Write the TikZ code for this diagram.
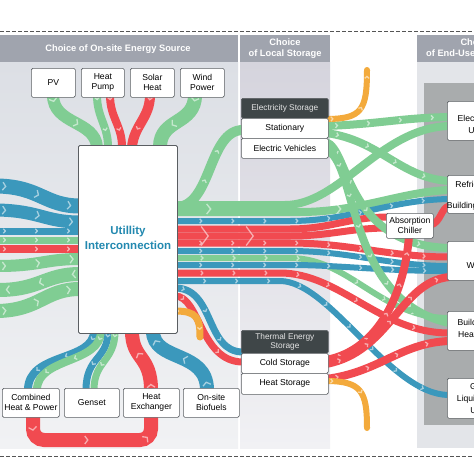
\documentclass[tikz,border=0pt]{standalone}
\usepackage{fontspec}
\setmainfont{Liberation Sans}
\usetikzlibrary{arrows.meta,decorations.markings}
\definecolor{gband}{HTML}{80CD93}
\definecolor{bband}{HTML}{3B98BC}
\definecolor{rband}{HTML}{F14A50}
\definecolor{oband}{HTML}{F3AA3C}
\definecolor{hdr}{HTML}{A0A4AE}
\definecolor{boxline}{HTML}{5A5E62}
\definecolor{darkhdr}{HTML}{3F4648}
\definecolor{panel}{HTML}{A9ACAD}
\definecolor{utiltext}{HTML}{2389B0}
\definecolor{dashc}{HTML}{555555}
\definecolor{coltop}{HTML}{DCDFE5}
\definecolor{colbot}{HTML}{F1F2F4}
\definecolor{midtop}{HTML}{D5D4DD}
\definecolor{midbot}{HTML}{F1F1F4}
\definecolor{rightcol}{HTML}{E3E5E9}
\tikzset{
  band/.style={line width=#1, line cap=butt},
  chev/.style n args={3}{postaction={decorate,decoration={markings,
      mark=between positions 0.1 and 0.95 step #3 with {\arrow[white,opacity=0.55]{Straight Barb[length=#1,width=#2,line width=1.3pt]}}}}},
  thinchev/.style={chev={2pt}{4.5pt}{32pt}},
  thickchev/.style={chev={3pt}{8pt}{34pt}},
  ebox/.style={draw=boxline, fill=white, line width=0.7pt, rounded corners=1.5pt,
      align=center, font=\fontsize{8.6}{10}\selectfont, inner sep=0pt, anchor=north west},
  darkbox/.style={ebox, fill=darkhdr, text=white!90!black, font=\fontsize{8.3}{9.5}\selectfont},
  hdrtext/.style={text=white, font=\fontsize{9.3}{11.5}\bfseries\selectfont, align=center},
}
\begin{document}
\begin{tikzpicture}[x=1pt,y=-1pt]
\useasboundingbox (0,0) rectangle (474,474);
\fill[white] (0,0) rectangle (474,474);
% columns
\fill[hdr] (0,35) rectangle (238,62);
\shade[top color=coltop, bottom color=colbot] (0,62) rectangle (238,448);
\fill[hdr] (240,35) rectangle (330,62);
\shade[top color=midtop, bottom color=midbot] (240,62) rectangle (330,448);
\fill[hdr] (417,35) rectangle (540,62);
\fill[rightcol] (417,62) rectangle (540,448);
\fill[panel] (424,83) rectangle (540,425);
\node[hdrtext] (h1) at (118,49) {Choice of On-site Energy Source};
\node[hdrtext] (h2) at (285,48.5) {Choice\\of Local Storage};
\node[hdrtext] (h3) at (476,48.5) {Choice\\of End-Use Equipment};
% dashed borders
\draw[dashc, line width=0.9pt, dash pattern=on 4pt off 2pt] (0,31) -- (474,31);
\draw[dashc, line width=0.9pt, dash pattern=on 4pt off 2pt] (0,456) -- (474,456);

% ---------- top inputs ----------
\draw[band=12, gband, thickchev] (53,95) .. controls (53,125) and (95,120) .. (97,147);
\draw[band=8, gband, thinchev] (97,95) .. controls (97,118) and (108,125) .. (108,147);
\draw[band=8, rband, thinchev] (110,95) .. controls (110,118) and (122,125) .. (122,147);
\draw[band=10, rband, thinchev] (150,95) .. controls (150,118) and (134,125) .. (132,147);
\draw[band=14, gband, thickchev] (195,95) .. controls (195,125) and (160,118) .. (160,147);

% ---------- left inputs ----------
\draw[band=15, bband, thickchev] (-2,186) .. controls (40,187) and (45,206) .. (80,206);
\draw[band=13, bband, thickchev] (-2,210) .. controls (40,211) and (45,222) .. (80,222);
\draw[band=7, bband, thinchev] (-2,231) -- (80,231);
\draw[band=7, gband, thinchev] (-2,240) -- (80,240);
\draw[band=8, rband, thinchev] (-2,249) -- (80,249);
\draw[band=12, gband, thickchev] (-2,266) .. controls (40,266) and (45,259) .. (80,259);
\draw[band=14, gband, thickchev] (80,274) .. controls (45,274) and (40,290) .. (-2,290);
\draw[band=14, gband, thickchev] (-2,311) .. controls (40,310) and (45,289) .. (80,289);

% ---------- right side from utility ----------
\draw[band=10, gband, thinchev] (176,207) .. controls (212,207) and (208,130) .. (243,130);
\draw[band=8, gband] (175,205) -- (285,205) .. controls (340,205) and (380,128) .. (449,126);
\draw[band=8, gband] (175,212) -- (300,212) .. controls (360,212) and (400,192) .. (449,190);
\path[chev={4pt}{10pt}{130pt}] (185,209) -- (450,209);
\draw[band=6, bband, thinchev] (175,221) -- (290,221) .. controls (350,221) and (390,200) .. (449,199);
\draw[band=7, rband] (175,229) -- (290,229) .. controls (330,229) and (350,217) .. (388,217);
\draw[band=7, rband] (175,236) -- (290,236) .. controls (330,236) and (350,228) .. (388,228);
\draw[band=7, rband, thinchev] (175,243) -- (290,243) .. controls (350,243) and (390,257) .. (449,257);
\path[chev={7pt}{19pt}{45pt}] (200,236) -- (290,236);
\draw[band=7, rband, thinchev] (431,225) .. controls (441,222) and (441,208) .. (449,206);
\draw[band=6, bband, thinchev] (175,251) -- (290,251) .. controls (350,251) and (390,266) .. (449,266);
\draw[band=6, gband, thinchev] (175,258) -- (290,258) .. controls (350,258) and (380,318) .. (449,318);
\draw[band=6, bband, thinchev] (175,265) -- (290,265) .. controls (340,265) and (380,271) .. (449,271);
\draw[band=7, rband, thinchev] (175,273) -- (280,273) .. controls (340,273) and (380,333) .. (449,333);
\draw[band=6, bband, thinchev] (175,281) -- (280,281) .. controls (330,281) and (390,395) .. (449,395);
\draw[band=7, bband, thinchev] (175,288) .. controls (215,288) and (205,352) .. (243,352);
\draw[band=7, rband, thinchev] (175,296) .. controls (200,296) and (200,362) .. (243,362);
\draw[band=7, oband, line cap=round, thinchev] (175,311) .. controls (197,311) and (200,318) .. (200,337);

% ---------- storage flows ----------
\draw[band=8, gband, thinchev] (326,126) .. controls (380,124) and (400,118) .. (449,117);
\draw[band=8, gband, thinchev] (326,133) .. controls (380,140) and (400,178) .. (449,181);
\draw[band=8, gband, thinchev] (326,142) .. controls (350,150) and (345,245) .. (449,248);
\draw[band=8, gband, thinchev] (326,150) .. controls (358,160) and (345,300) .. (449,323);
\draw[band=8, rband, thinchev] (326,360) .. controls (380,350) and (405,290) .. (409,236);
\draw[band=8, rband, thinchev] (326,364) .. controls (390,352) and (400,282) .. (449,277);
\draw[band=8, rband, thinchev] (326,379) .. controls (380,372) and (400,343) .. (449,341);
\draw[band=6, oband, line cap=round, thinchev] (326,119) .. controls (362,119) and (367,110) .. (367,70);
\draw[band=6, oband, line cap=round, thinchev] (326,381) .. controls (362,381) and (367,392) .. (367,428);

% ---------- bottom flows ----------
\draw[band=8, bband, thinchev] (94,331) .. controls (94,362) and (28,352) .. (28,390);
\draw[band=8, gband, thinchev] (101,331) .. controls (101,364) and (37,357) .. (37,390);
\draw[band=7, bband, thinchev] (108,331) .. controls (108,360) and (86,356) .. (86,390);
\draw[band=7, gband, thinchev] (115,331) .. controls (115,362) and (94,360) .. (94,390);
\draw[band=14, rband, thickchev] (151,390) .. controls (151,355) and (132,360) .. (132,331);
\draw[band=14, bband, thickchev] (207,390) .. controls (207,350) and (153,362) .. (153,331);
\draw[band=14, rband, rounded corners=11pt, chev={3pt}{8pt}{60pt}] (33,415) -- (33,440) -- (151,440) -- (151,415);

% ---------- nodes ----------
\node[ebox, minimum width=99pt, minimum height=188pt, line width=0.8pt] (util) at (78,145) {};
\node[text=utiltext, font=\fontsize{11.5}{15}\bfseries\selectfont, align=center] (utiltxt) at (128,238) {Utillity\\Interconnection};

\node[ebox, minimum width=44pt, minimum height=29pt] (pv) at (31,68) {PV};
\node[ebox, minimum width=43pt, minimum height=29pt] (hp) at (81,68) {Heat\\Pump};
\node[ebox, minimum width=44pt, minimum height=29pt] (sh) at (130,68) {Solar\\Heat};
\node[ebox, minimum width=44pt, minimum height=29pt] (wp) at (180,68) {Wind\\Power};

\node[ebox, minimum width=57pt, minimum height=29pt] (chp) at (2,388) {Combined\\Heat \& Power};
\node[ebox, minimum width=55pt, minimum height=29pt] (gen) at (64,388) {Genset};
\node[ebox, minimum width=56pt, minimum height=29pt] (hx) at (123,388) {Heat\\Exchanger};
\node[ebox, minimum width=56pt, minimum height=29pt] (bio) at (183,388) {On-site\\Biofuels};

\node[darkbox, minimum width=87pt, minimum height=20pt] (es) at (241,98) {Electricity Storage};
\node[ebox, minimum width=87pt, minimum height=20pt] (stat) at (241,118) {Stationary};
\node[ebox, minimum width=87pt, minimum height=20pt] (ev) at (241,138) {Electric Vehicles};
\node[darkbox, minimum width=87pt, minimum height=23pt] (tes) at (241,330) {Thermal Energy\\Storage};
\node[ebox, minimum width=87pt, minimum height=20pt] (cold) at (241,353) {Cold Storage};
\node[ebox, minimum width=87pt, minimum height=21pt] (heat) at (241,373) {Heat Storage};

\node[ebox, minimum width=47pt, minimum height=25pt] (abs) at (386,213) {Absorption\\Chiller};

\node[ebox, minimum width=62pt, minimum height=39pt] (e1) at (447,101) {};
\node[font=\fontsize{8.6}{12}\selectfont, align=center] (e1t) at (476,124) {Electricity\\Use};
\node[ebox, minimum width=62pt, minimum height=38pt] (e2) at (447,175) {};
\node[font=\fontsize{8.6}{10}\selectfont] (e2a) at (480,185) {Refrigeration};
\node[font=\fontsize{8.6}{10}\selectfont] (e2b) at (478,206) {Building Cooling};
\node[ebox, minimum width=62pt, minimum height=39pt] (e3) at (447,241) {};
\node[font=\fontsize{8.6}{10}\selectfont] (e3t) at (478,266) {Water};
\node[ebox, minimum width=62pt, minimum height=39pt] (e4) at (447,311) {};
\node[font=\fontsize{8.6}{12}\selectfont, align=center] (e4t) at (473,329) {Building\\Heating};
\node[ebox, minimum width=62pt, minimum height=40pt] (e5) at (447,378) {};
\node[font=\fontsize{8.6}{12}\selectfont, align=center] (e5t) at (478,399) {Gas\\Liquid Fuel\\Use};
\end{tikzpicture}
\end{document}
